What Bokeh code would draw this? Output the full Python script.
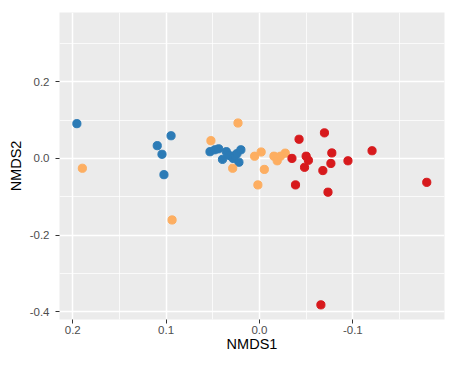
from bokeh.plotting import figure
from bokeh.models import Range1d, FixedTicker, PrintfTickFormatter
from bokeh.embed import file_html
from bokeh.resources import INLINE

# NMDS coordinates per group
blue_x = [0.1956, 0.1095, 0.1044, 0.0947, 0.1023, 0.0530, 0.0478, 0.0437, 0.0396,
          0.0355, 0.0323, 0.0282, 0.0262, 0.0241, 0.0220, 0.0199]
blue_y = [0.0906, 0.0332, 0.0107, 0.0591, -0.0424, 0.0175, 0.0225, 0.0250, -0.0025,
          0.0175, 0.0075, 0.0000, 0.0075, 0.0125, -0.0100, 0.0225]

orange_x = [0.1897, 0.0936, 0.0520, 0.0230, 0.0287, 0.0052, -0.0018, -0.0052, 0.0017,
            -0.0155, -0.0190, -0.0224, -0.0276]
orange_y = [-0.0257, -0.1605, 0.0462, 0.0923, -0.0257, 0.0057, 0.0167, -0.0287, -0.0691,
            0.0057, -0.0062, 0.0057, 0.0137]

red_x = [-0.0348, -0.0424, -0.0696, -0.0500, -0.0524, -0.0483, -0.0775, -0.0765, -0.0679,
         -0.0386, -0.0734, -0.0948, -0.1206, -0.1792, -0.0658]
red_y = [0.0000, 0.0499, 0.0666, 0.0057, -0.0050, -0.0232, 0.0142, -0.0132, -0.0317,
         -0.0691, -0.0881, -0.0062, 0.0200, -0.0624, -0.3818]

x_ticks = [0.2, 0.1, 0.0, -0.1]
x_minor = [0.15, 0.05, -0.05, -0.15]
y_ticks = [-0.4, -0.2, 0.0, 0.2]
y_minor = [-0.3, -0.1, 0.1, 0.3]

FONT = "Liberation Sans"

p = figure(width=458, height=368, output_backend="svg", toolbar_location=None,
           x_range=Range1d(0.2142, -0.1982), y_range=Range1d(-0.42, 0.3804),
           min_border_left=59, min_border_right=14, min_border_top=12, min_border_bottom=49)
p.background_fill_color = "#EBEBEB"
p.border_fill_color = "white"
p.outline_line_color = None

p.xaxis.ticker = FixedTicker(ticks=x_ticks, minor_ticks=x_minor)
p.yaxis.ticker = FixedTicker(ticks=y_ticks, minor_ticks=y_minor)

for ax in (p.xaxis, p.yaxis):
    ax.formatter = PrintfTickFormatter(format="%.1f")
    ax.axis_line_color = None
    ax.major_tick_line_color = "#333333"
    ax.major_tick_out = 4
    ax.major_tick_in = 0
    ax.minor_tick_line_color = None
    ax.major_label_text_font = FONT
    ax.major_label_text_font_size = "11.5px"
    ax.major_label_text_color = "#4D4D4D"
    ax.axis_label_text_font = FONT
    ax.axis_label_text_font_size = "14.5px"
    ax.axis_label_text_font_style = "normal"
    ax.axis_label_text_color = "black"

p.xaxis.axis_label = "NMDS1"
p.yaxis.axis_label = "NMDS2"
p.xaxis.major_label_standoff = 2
p.yaxis.major_label_standoff = 6
p.xaxis.axis_label_standoff = -1
p.yaxis.axis_label_standoff = 3

for g in (p.xgrid, p.ygrid):
    g.grid_line_color = "white"
    g.grid_line_width = 1.5
    g.minor_grid_line_color = "white"
    g.minor_grid_line_width = 0.75

p.scatter(blue_x, blue_y, size=8.2, fill_color="#2C7BB6", line_color="#2C7BB6")
p.scatter(orange_x, orange_y, size=8.2, fill_color="#FDAE61", line_color="#FDAE61")
p.scatter(red_x, red_y, size=8.2, fill_color="#D7191C", line_color="#D7191C")

open("out.html", "w").write(file_html(p, INLINE))
